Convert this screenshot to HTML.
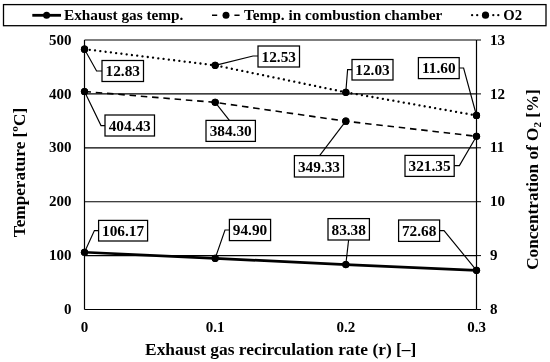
<!DOCTYPE html><html><head><meta charset="utf-8"><style>html,body{margin:0;padding:0;background:#fff}svg{display:block}text{font-family:"Liberation Serif",serif;font-weight:bold;fill:#000}</style></head><body>
<svg width="550" height="362" viewBox="0 0 550 362">
<rect width="550" height="362" fill="#fff"/>
<rect x="3.5" y="4.6" width="542.5" height="21.1" fill="#fff" stroke="#000" stroke-width="1.3"/>
<line x1="84.5" y1="40.00" x2="476.5" y2="40.00" stroke="#000" stroke-width="1.15"/>
<line x1="476.5" y1="40.00" x2="481.0" y2="40.00" stroke="#000" stroke-width="1"/>
<text x="71.5" y="44.60" font-size="15" text-anchor="end">500</text>
<text x="490" y="44.60" font-size="15">13</text>
<line x1="84.5" y1="93.90" x2="476.5" y2="93.90" stroke="#000" stroke-width="1.15"/>
<line x1="476.5" y1="93.90" x2="481.0" y2="93.90" stroke="#000" stroke-width="1"/>
<text x="71.5" y="98.50" font-size="15" text-anchor="end">400</text>
<text x="490" y="98.50" font-size="15">12</text>
<line x1="84.5" y1="147.80" x2="476.5" y2="147.80" stroke="#000" stroke-width="1.15"/>
<line x1="476.5" y1="147.80" x2="481.0" y2="147.80" stroke="#000" stroke-width="1"/>
<text x="71.5" y="152.40" font-size="15" text-anchor="end">300</text>
<text x="490" y="152.40" font-size="15">11</text>
<line x1="84.5" y1="201.70" x2="476.5" y2="201.70" stroke="#000" stroke-width="1.15"/>
<line x1="476.5" y1="201.70" x2="481.0" y2="201.70" stroke="#000" stroke-width="1"/>
<text x="71.5" y="206.30" font-size="15" text-anchor="end">200</text>
<text x="490" y="206.30" font-size="15">10</text>
<line x1="84.5" y1="255.60" x2="476.5" y2="255.60" stroke="#000" stroke-width="1.15"/>
<line x1="476.5" y1="255.60" x2="481.0" y2="255.60" stroke="#000" stroke-width="1"/>
<text x="71.5" y="260.20" font-size="15" text-anchor="end">100</text>
<text x="490" y="260.20" font-size="15">9</text>
<line x1="84.5" y1="309.50" x2="476.5" y2="309.50" stroke="#000" stroke-width="1.15"/>
<line x1="476.5" y1="309.50" x2="481.0" y2="309.50" stroke="#000" stroke-width="1"/>
<text x="71.5" y="314.10" font-size="15" text-anchor="end">0</text>
<text x="490" y="314.10" font-size="15">8</text>
<line x1="84.5" y1="40.0" x2="84.5" y2="309.5" stroke="#000" stroke-width="1.2"/>
<line x1="476.5" y1="40.0" x2="476.5" y2="309.5" stroke="#000" stroke-width="1.2"/>
<text x="84.50" y="332" font-size="15" text-anchor="middle">0</text>
<text x="215.17" y="332" font-size="15" text-anchor="middle">0.1</text>
<text x="345.83" y="332" font-size="15" text-anchor="middle">0.2</text>
<text x="476.50" y="332" font-size="15" text-anchor="middle">0.3</text>
<text x="280.7" y="355.3" font-size="17.4" text-anchor="middle">Exhaust gas recirculation rate (r) [–]</text>
<text transform="translate(24.6,172.5) rotate(-90)" font-size="17.2" text-anchor="middle">Temperature [ºC]</text>
<text transform="translate(538,179.5) rotate(-90)" font-size="17.2" text-anchor="middle">Concentration of O<tspan font-size="11" dy="3">2</tspan><tspan dy="-3"> [%]</tspan></text>
<polyline points="84.50,252.27 215.17,258.35 345.83,264.56 476.50,270.33" fill="none" stroke="#000" stroke-width="2.7"/>
<polyline points="84.50,91.51 215.17,102.36 345.83,121.21 476.50,136.29" fill="none" stroke="#000" stroke-width="1.6" stroke-dasharray="6.5 4.8"/>
<polyline points="84.50,49.16 215.17,65.33 345.83,92.28 476.50,115.46" fill="none" stroke="#000" stroke-width="2.3" stroke-dasharray="0.01 5.3" stroke-linecap="round"/>
<circle cx="84.50" cy="252.27" r="3.6"/>
<circle cx="215.17" cy="258.35" r="3.6"/>
<circle cx="345.83" cy="264.56" r="3.6"/>
<circle cx="476.50" cy="270.33" r="3.6"/>
<circle cx="84.50" cy="91.51" r="3.6"/>
<circle cx="215.17" cy="102.36" r="3.6"/>
<circle cx="345.83" cy="121.21" r="3.6"/>
<circle cx="476.50" cy="136.29" r="3.6"/>
<circle cx="84.50" cy="49.16" r="3.6"/>
<circle cx="215.17" cy="65.33" r="3.6"/>
<circle cx="345.83" cy="92.28" r="3.6"/>
<circle cx="476.50" cy="115.46" r="3.6"/>
<polyline points="102.00,71.00 96.60,71.00 84.50,49.20" fill="none" stroke="#000" stroke-width="1.15"/>
<polyline points="258.00,56.00 253.00,56.00 215.20,65.40" fill="none" stroke="#000" stroke-width="1.15"/>
<polyline points="352.00,69.60 347.60,69.60 345.80,92.30" fill="none" stroke="#000" stroke-width="1.15"/>
<polyline points="459.20,68.00 463.60,68.00 476.50,115.50" fill="none" stroke="#000" stroke-width="1.15"/>
<polyline points="105.00,125.60 101.00,125.60 84.50,91.50" fill="none" stroke="#000" stroke-width="1.15"/>
<polyline points="229.40,120.40 215.20,102.40" fill="none" stroke="#000" stroke-width="1.15"/>
<polyline points="319.60,155.60 345.80,121.20" fill="none" stroke="#000" stroke-width="1.15"/>
<polyline points="454.20,165.60 459.40,165.60 476.50,136.30" fill="none" stroke="#000" stroke-width="1.15"/>
<polyline points="98.60,230.60 94.40,230.60 84.50,252.30" fill="none" stroke="#000" stroke-width="1.15"/>
<polyline points="229.40,230.00 225.00,230.00 215.20,258.30" fill="none" stroke="#000" stroke-width="1.15"/>
<polyline points="348.60,240.00 345.80,264.60" fill="none" stroke="#000" stroke-width="1.15"/>
<polyline points="439.60,230.60 444.00,230.60 476.50,270.30" fill="none" stroke="#000" stroke-width="1.15"/>
<rect x="102" y="60.5" width="41.50" height="21.00" fill="#fff" stroke="#000" stroke-width="1.25"/>
<text x="122.75" y="76.2" font-size="15.3" text-anchor="middle">12.83</text>
<rect x="258" y="46" width="41.50" height="21.00" fill="#fff" stroke="#000" stroke-width="1.25"/>
<text x="278.75" y="61.7" font-size="15.3" text-anchor="middle">12.53</text>
<rect x="352" y="59.5" width="41.00" height="20.50" fill="#fff" stroke="#000" stroke-width="1.25"/>
<text x="372.5" y="74.95" font-size="15.3" text-anchor="middle">12.03</text>
<rect x="418.4" y="57.6" width="40.80" height="21.00" fill="#fff" stroke="#000" stroke-width="1.25"/>
<text x="438.79999999999995" y="73.3" font-size="15.3" text-anchor="middle">11.60</text>
<rect x="105" y="115" width="49.50" height="21.00" fill="#fff" stroke="#000" stroke-width="1.25"/>
<text x="129.75" y="130.7" font-size="15.3" text-anchor="middle">404.43</text>
<rect x="206" y="120.4" width="49.40" height="21.00" fill="#fff" stroke="#000" stroke-width="1.25"/>
<text x="230.7" y="136.1" font-size="15.3" text-anchor="middle">384.30</text>
<rect x="294.4" y="155.6" width="49.20" height="21.40" fill="#fff" stroke="#000" stroke-width="1.25"/>
<text x="319.0" y="171.5" font-size="15.3" text-anchor="middle">349.33</text>
<rect x="405" y="155.4" width="49.20" height="21.00" fill="#fff" stroke="#000" stroke-width="1.25"/>
<text x="429.6" y="171.1" font-size="15.3" text-anchor="middle">321.35</text>
<rect x="98.6" y="220.4" width="49.00" height="20.60" fill="#fff" stroke="#000" stroke-width="1.25"/>
<text x="123.1" y="235.89999999999998" font-size="15.3" text-anchor="middle">106.17</text>
<rect x="229.4" y="219.4" width="41.20" height="21.20" fill="#fff" stroke="#000" stroke-width="1.25"/>
<text x="250.0" y="235.2" font-size="15.3" text-anchor="middle">94.90</text>
<rect x="328" y="218.6" width="41.40" height="21.40" fill="#fff" stroke="#000" stroke-width="1.25"/>
<text x="348.7" y="234.5" font-size="15.3" text-anchor="middle">83.38</text>
<rect x="398.6" y="220" width="41.00" height="21.40" fill="#fff" stroke="#000" stroke-width="1.25"/>
<text x="419.1" y="235.89999999999998" font-size="15.3" text-anchor="middle">72.68</text>
<circle cx="84.50" cy="252.27" r="3.6"/>
<circle cx="215.17" cy="258.35" r="3.6"/>
<circle cx="345.83" cy="264.56" r="3.6"/>
<circle cx="476.50" cy="270.33" r="3.6"/>
<circle cx="84.50" cy="91.51" r="3.6"/>
<circle cx="215.17" cy="102.36" r="3.6"/>
<circle cx="345.83" cy="121.21" r="3.6"/>
<circle cx="476.50" cy="136.29" r="3.6"/>
<circle cx="84.50" cy="49.16" r="3.6"/>
<circle cx="215.17" cy="65.33" r="3.6"/>
<circle cx="345.83" cy="92.28" r="3.6"/>
<circle cx="476.50" cy="115.46" r="3.6"/>
<line x1="32.3" y1="15.3" x2="61" y2="15.3" stroke="#000" stroke-width="2.8"/><circle cx="46.6" cy="15.3" r="3.5"/>
<text x="64" y="20.2" font-size="15.3">Exhaust gas temp.</text>
<line x1="212" y1="15.3" x2="240" y2="15.3" stroke="#000" stroke-width="1.6" stroke-dasharray="5.2 17.2"/><circle cx="226" cy="15.3" r="3.5"/>
<text x="244" y="20.2" font-size="15.3">Temp. in combustion chamber</text>
<circle cx="472.1" cy="15.2" r="1.15"/>
<circle cx="477.2" cy="15.2" r="1.15"/>
<circle cx="493.3" cy="15.2" r="1.15"/>
<circle cx="498.3" cy="15.2" r="1.15"/>
<circle cx="485.5" cy="15.2" r="3.6"/>
<text x="503.3" y="20.2" font-size="15.3" textLength="18.8" lengthAdjust="spacingAndGlyphs">O2</text>
</svg></body></html>
